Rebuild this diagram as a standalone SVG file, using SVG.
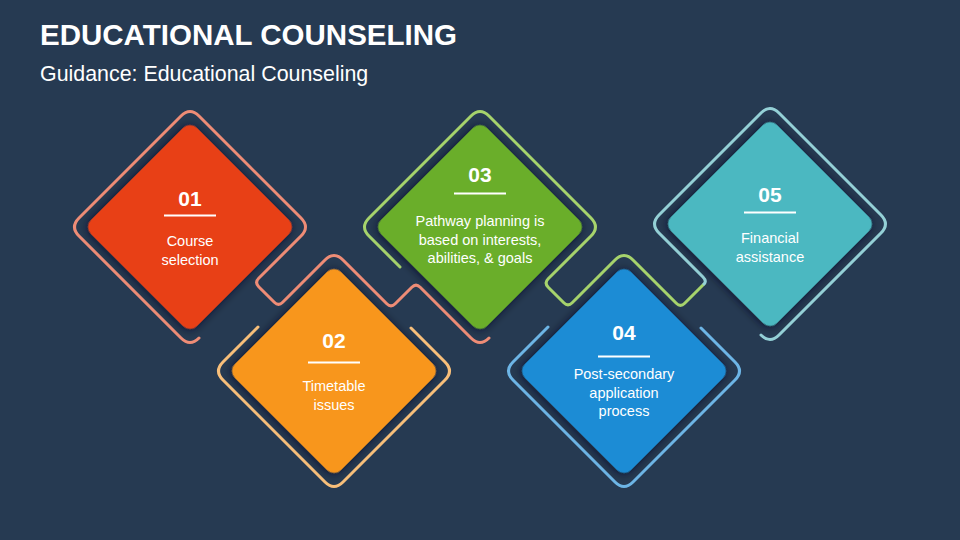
<svg xmlns="http://www.w3.org/2000/svg" width="960" height="540" viewBox="0 0 960 540">
  <defs>
    <filter id="sh" x="-30%" y="-30%" width="160%" height="160%">
      <feDropShadow dx="0" dy="1" stdDeviation="4" flood-color="#0b1320" flood-opacity="0.75"/>
    </filter>
    <style>
      .title{font-family:"Liberation Sans",Arial,sans-serif;font-weight:bold;fill:#fff}
      .sub{font-family:"Liberation Sans",Arial,sans-serif;fill:#fff}
      .num{font-family:"Liberation Sans",Arial,sans-serif;font-weight:bold;font-size:21px;fill:#fff;text-anchor:middle}
      .lbl{font-family:"Liberation Sans",Arial,sans-serif;font-size:14.5px;fill:#fff;text-anchor:middle}
      .ul{stroke:#fff;stroke-width:2.2}
      .dia{filter:url(#sh)}
      .ol{fill:none;stroke-width:3;stroke-linecap:round;stroke-linejoin:round}
    </style>
  </defs>
  <rect width="960" height="540" fill="#263A52"/>
  <text class="title" x="40" y="45" font-size="30" textLength="417" lengthAdjust="spacingAndGlyphs">EDUCATIONAL COUNSELING</text>
  <text class="sub" x="40" y="81" font-size="21.4">Guidance: Educational Counseling</text>

  <g id="connectors">
    <path class="ol" stroke="#EE8C76" d="M199,338 Q190,347 181,338 L79,236 Q70,227 79,218 L181,116 Q190,107 199,116 L301,218 Q310,227 301,236 L258.7,278.3 Q254.5,282.5 258.7,286.7 L274.3,302.3 Q278.5,306.5 282.7,302.3 L325,260 Q334,251 343,260 L386.8,303.8 Q391,308 395.2,303.8 L411.8,287.2 Q416,283 420.2,287.2 L471,338 Q480,347 489,338"/>
    <path class="ol" stroke="#F8BF7A" d="M258,327 L223,362 Q214,371 223,380 L325,482 Q334,491 343,482 L445,380 Q454,371 445,362 L411,328"/>
    <path class="ol" stroke="#A6D36C" d="M400,267 L369,236 Q360,227 369,218 L471,116 Q480,107 489,116 L591,218 Q600,227 591,236 L548.2,278.8 Q544,283 548.2,287.2 L563.8,302.8 Q568,307 572.2,302.8 L615,260 Q624,251 633,260 L676.3,303.3 Q680.5,307.5 684.7,303.3 L704,284"/>
    <path class="ol" stroke="#6DB5E6" d="M548,327 L513,362 Q504,371 513,380 L615,482 Q624,491 633,482 L735,380 Q744,371 735,362 L701,328"/>
    <path class="ol" stroke="#94D0D6" d="M704,284 Q707,281 703,277 L659,233 Q650,224 659,215 L761,113 Q770,104 779,113 L881,215 Q890,224 881,233 L779,335 Q770,344 761,335"/>
  </g>

  <g id="node1">
    <rect class="dia" x="-75" y="-75" width="150" height="150" rx="10" fill="#E84117" transform="translate(190,227) rotate(45)"/>
    <text class="num" x="190" y="206">01</text>
    <line class="ul" x1="164" y1="215.5" x2="216" y2="215.5"/>
    <text class="lbl" x="190" y="246">Course</text>
    <text class="lbl" x="190" y="265">selection</text>
  </g>

  <g id="node2">
    <rect class="dia" x="-75" y="-75" width="150" height="150" rx="10" fill="#F8961E" transform="translate(334,371) rotate(45)"/>
    <text class="num" x="334" y="348">02</text>
    <line class="ul" x1="308" y1="362.5" x2="360" y2="362.5"/>
    <text class="lbl" x="334" y="391">Timetable</text>
    <text class="lbl" x="334" y="410">issues</text>
  </g>

  <g id="node3">
    <rect class="dia" x="-75" y="-75" width="150" height="150" rx="10" fill="#6BAE29" transform="translate(480,227) rotate(45)"/>
    <text class="num" x="480" y="182">03</text>
    <line class="ul" x1="454" y1="193.5" x2="506" y2="193.5"/>
    <text class="lbl" x="480" y="226">Pathway planning is</text>
    <text class="lbl" x="480" y="245">based on interests,</text>
    <text class="lbl" x="480" y="263">abilities, &amp; goals</text>
  </g>

  <g id="node4">
    <rect class="dia" x="-75" y="-75" width="150" height="150" rx="10" fill="#1B8CD5" transform="translate(624,371) rotate(45)"/>
    <text class="num" x="624" y="340">04</text>
    <line class="ul" x1="598" y1="356.5" x2="650" y2="356.5"/>
    <text class="lbl" x="624" y="379">Post-secondary</text>
    <text class="lbl" x="624" y="398">application</text>
    <text class="lbl" x="624" y="416">process</text>
  </g>

  <g id="node5">
    <rect class="dia" x="-75" y="-75" width="150" height="150" rx="10" fill="#4BB8C1" transform="translate(770,224) rotate(45)"/>
    <text class="num" x="770" y="202">05</text>
    <line class="ul" x1="744" y1="212.5" x2="796" y2="212.5"/>
    <text class="lbl" x="770" y="243">Financial</text>
    <text class="lbl" x="770" y="262">assistance</text>
  </g>
</svg>
